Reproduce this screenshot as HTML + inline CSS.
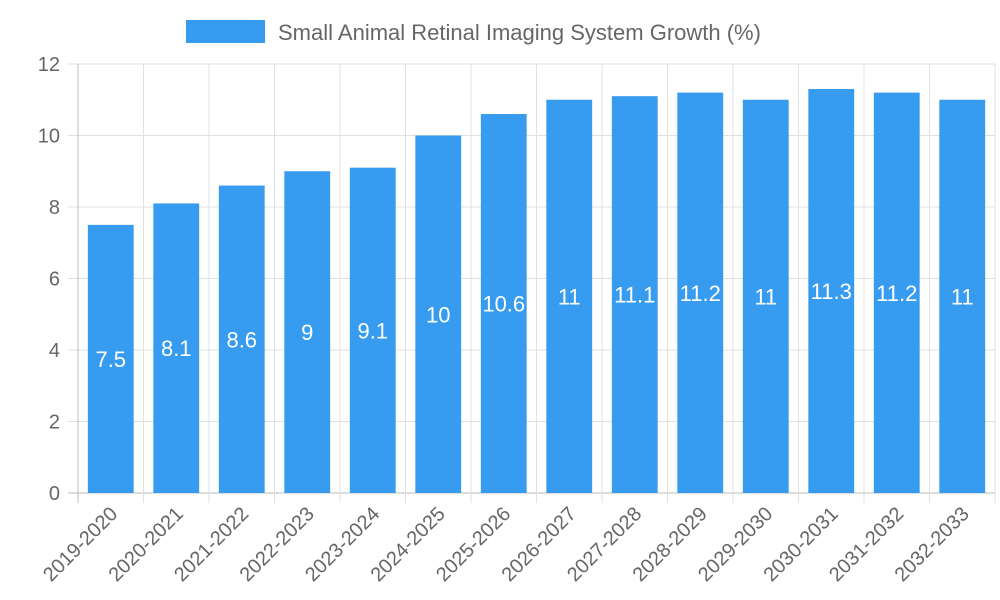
<!DOCTYPE html>
<html><head><meta charset="utf-8"><style>
html,body{margin:0;padding:0;background:#fff;}
svg{display:block;font-family:"Liberation Sans",sans-serif;}
</style></head><body>
<svg id="chart" width="1000" height="600">
<g id="legend">
<rect x="186" y="20" width="79" height="23" fill="#379cf0"/>
<text x="278" y="40" font-size="22" fill="#666">Small Animal Retinal Imaging System Growth (%)</text>
</g>
<g id="grid"></g><g id="bars"></g><g id="axes"></g>
</svg>
<script>
const categories=["2019-2020","2020-2021","2021-2022","2022-2023","2023-2024","2024-2025","2025-2026","2026-2027","2027-2028","2028-2029","2029-2030","2030-2031","2031-2032","2032-2033"];
const values=[7.5,8.1,8.6,9,9.1,10,10.6,11,11.1,11.2,11,11.3,11.2,11];
const yTicks=[0,2,4,6,8,10,12];
const NS="http://www.w3.org/2000/svg";
const L=78,R=995,T=64,B=493,yMax=12;
const bw=(R-L)/categories.length;
const y=v=>B-(v/yMax)*(B-T);
const x=i=>L+i*bw;
function mk(tag,attrs,parent,text){const e=document.createElementNS(NS,tag);for(const k in attrs)e.setAttribute(k,attrs[k]);if(text!==undefined)e.textContent=text;parent.appendChild(e);return e;}
const grid=document.getElementById('grid'),bars=document.getElementById('bars'),axes=document.getElementById('axes');
yTicks.forEach(t=>{
  const g=mk('line',{x1:L-10,x2:R,y1:y(t),y2:y(t),stroke:t===0?'#bbb':'#e0e0e0','stroke-width':1},grid);
  
  
  const tx=mk('text',{x:L-18,y:y(t)+7,'text-anchor':'end','font-size':20,fill:'#666'},axes,String(t));
  
  
});
for(let i=0;i<=categories.length;i++){
  const g=mk('line',{x1:x(i),x2:x(i),y1:T,y2:B+10,stroke:i===0?'#bbb':'#e0e0e0','stroke-width':1},grid);
  
  
}
categories.forEach((c,i)=>{
  const cx=x(i)+bw/2,w=bw*0.7;
  const r=mk('rect',{x:cx-w/2,y:y(values[i]),width:w,height:B-y(values[i]),fill:'#379cf0'},bars);
  
  
  const v=mk('text',{x:cx,y:(y(values[i])+B)/2+8,'text-anchor':'middle','font-size':22,fill:'#fff'},bars,String(values[i]));
  
  
  const lx=cx+8,ly=B+22;
  const t=mk('text',{x:lx,y:ly,'text-anchor':'end','font-size':20,fill:'#666',transform:`rotate(-45 ${lx} ${ly})`},axes,c);
  
  
});
</script>
</body></html>
